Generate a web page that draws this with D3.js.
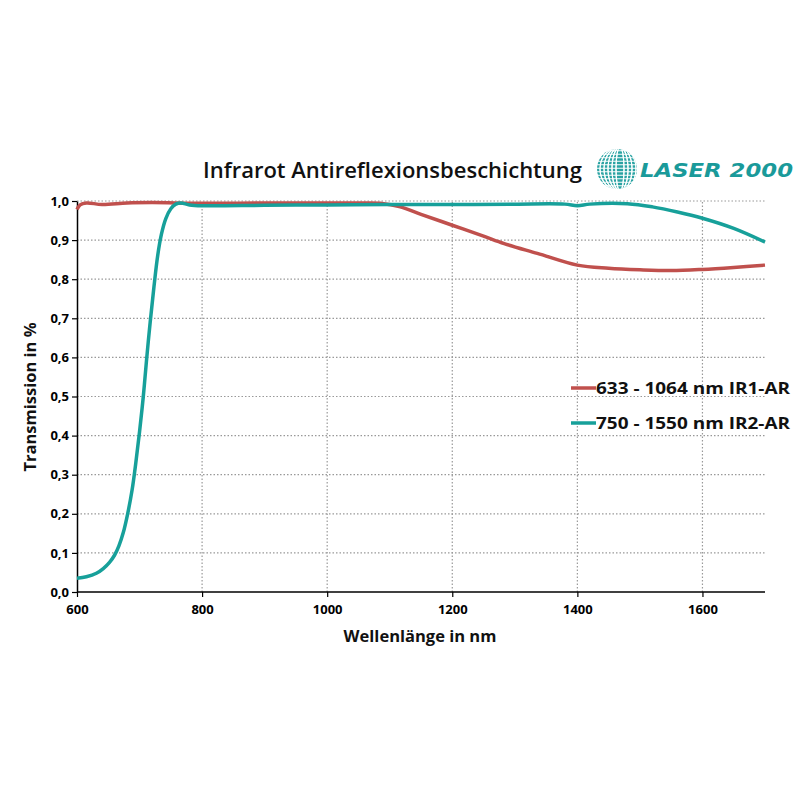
<!DOCTYPE html>
<html><head><meta charset="utf-8">
<script src="https://cdn.jsdelivr.net/npm/d3@7"></script>
<style>body{margin:0;background:#fff}svg{display:block}</style>
</head><body>
<svg id="c" width="800" height="800"></svg>
<script>
const xTicks = [600, 800, 1000, 1200, 1400, 1600];
const yTicks = [0, 0.1, 0.2, 0.3, 0.4, 0.5, 0.6, 0.7, 0.8, 0.9, 1.0];
const seriesNames = ["633 - 1064 nm IR1-AR", "750 - 1550 nm IR2-AR"];
const ir1Wavelength = [600, 605, 615, 640, 680, 720, 800, 900, 1000, 1060, 1085, 1117, 1150, 1200, 1250, 1283, 1336, 1400, 1450, 1500, 1550, 1600, 1650, 1700];
const ir1Value = [0.978, 0.99, 0.995, 0.991, 0.995, 0.996, 0.994, 0.995, 0.995, 0.995, 0.994, 0.985, 0.966, 0.938, 0.91, 0.891, 0.866, 0.836, 0.828, 0.824, 0.822, 0.825, 0.83, 0.836];
const ir2Wavelength = [600, 615, 631, 642, 652, 660, 667, 674, 681, 688, 694, 700, 706, 711, 717, 723, 729, 735, 742, 750, 758, 766, 780, 800, 900, 1000, 1100, 1200, 1300, 1380, 1400, 1420, 1480, 1520, 1560, 1600, 1650, 1700];
const ir2Value = [0.035, 0.039, 0.048, 0.06, 0.076, 0.094, 0.118, 0.152, 0.2, 0.26, 0.33, 0.41, 0.5, 0.59, 0.69, 0.78, 0.86, 0.915, 0.955, 0.98, 0.992, 0.995, 0.99, 0.988, 0.989, 0.99, 0.991, 0.991, 0.992, 0.992, 0.988, 0.992, 0.993, 0.985, 0.972, 0.956, 0.93, 0.895];
const colors = ["#c0504d", "#17a09a"];

const svg = d3.select("#c");
const x = d3.scaleLinear().domain([600, 1700]).range([77, 765]);
const y = d3.scaleLinear().domain([0, 1]).range([592, 201]);

// grid
svg.append("g").selectAll("line").data(yTicks.filter(d => d > 0)).join("line")
  .attr("x1", x(600)).attr("x2", x(1700)).attr("y1", d => y(d)).attr("y2", d => y(d))
  .attr("stroke", "#999").attr("stroke-width", 1.2).attr("stroke-dasharray", "1.5,2");
svg.append("g").selectAll("line").data(xTicks.filter(d => d > 600)).join("line")
  .attr("x1", d => x(d)).attr("x2", d => x(d)).attr("y1", y(0)).attr("y2", y(1))
  .attr("stroke", "#999").attr("stroke-width", 1.2).attr("stroke-dasharray", "1.5,2");

// axes
const font = "'Open Sans', sans-serif";
const xAxis = svg.append("g").attr("transform", `translate(0,${y(0)})`)
  .call(d3.axisBottom(x).tickValues(xTicks).tickSize(5).tickFormat(d3.format("d")).tickSizeOuter(0));
const yAxis = svg.append("g").attr("transform", `translate(${x(600)},0)`)
  .call(d3.axisLeft(y).tickValues(yTicks).tickSize(5).tickFormat(d => d.toFixed(1).replace(".", ",")).tickSizeOuter(0));
[xAxis, yAxis].forEach(a => {
  a.select(".domain").attr("stroke", "#000").attr("stroke-width", 1.5);
  a.selectAll(".tick line").attr("stroke", "#000").attr("stroke-width", 1.2);
  a.selectAll("text").attr("fill", "#000").style("font-family", font).style("font-weight", "bold").style("font-size", "13px");
});
xAxis.selectAll("text").attr("dy", "1.1em");
xAxis.select(".domain").attr("d", `M${x(600)},0H${x(1700)}`);

// lines
const line = d3.line().x(d => x(d[0])).y(d => y(d[1])).curve(d3.curveCatmullRom.alpha(0.5));
const ir1 = ir1Wavelength.map((w, i) => [w, ir1Value[i]]);
const ir2 = ir2Wavelength.map((w, i) => [w, ir2Value[i]]);
svg.append("path").datum(ir1).attr("d", line).attr("fill", "none").attr("stroke", colors[0]).attr("stroke-width", 3.5);
svg.append("path").datum(ir2).attr("d", line).attr("fill", "none").attr("stroke", colors[1]).attr("stroke-width", 3.5);

// legend
const lg = svg.append("g");
seriesNames.forEach((n, i) => {
  const ly = 388 + i * 35;
  lg.append("line").attr("x1", 571).attr("x2", 596).attr("y1", ly).attr("y2", ly)
    .attr("stroke", colors[i]).attr("stroke-width", 3.5);
  lg.append("text").attr("x", 596).attr("y", ly + 6).text(n)
    .style("font-family", font).style("font-weight", "bold").style("font-size", "16.5px").attr("fill", "#111")
    .attr("textLength", 194).attr("lengthAdjust", "spacingAndGlyphs");
});

// axis titles
svg.append("text").attr("x", 420).attr("y", 642).attr("text-anchor", "middle").text("Wellenlänge in nm")
  .style("font-family", font).style("font-weight", "bold").style("font-size", "16.5px").attr("fill", "#111");
svg.append("text").attr("transform", "translate(36,397) rotate(-90)").attr("text-anchor", "middle").text("Transmission in %")
  .style("font-family", font).style("font-weight", "bold").style("font-size", "16.5px").attr("fill", "#111");

// title
svg.append("text").attr("x", 203).attr("y", 178).text("Infrarot Antireflexionsbeschichtung")
  .style("font-family", font).style("font-weight", "600").style("font-size", "22px").attr("fill", "#111")
  .attr("textLength", 379).attr("lengthAdjust", "spacingAndGlyphs");

// logo
const logo = svg.append("g");
const gx = 617, gy = 169, gr = 20;
const defs = svg.append("defs");
defs.append("clipPath").attr("id", "globe").append("circle").attr("cx", gx).attr("cy", gy).attr("r", gr);
const gg = logo.append("g").attr("clip-path", "url(#globe)");
d3.range(-gr, gr + 1, 3.5).forEach(o => {
  gg.append("line").attr("x1", gx - gr).attr("x2", gx + gr).attr("y1", gy + o).attr("y2", gy + o)
    .attr("stroke", "#2aa3a3").attr("stroke-width", 2.4);
});
d3.range(-5, 6).forEach(k => {
  gg.append("ellipse").attr("cx", gx + 3).attr("cy", gy).attr("rx", Math.abs(k) * gr / 5).attr("ry", gr + 2)
    .attr("fill", "none").attr("stroke", "#fff").attr("stroke-width", 1.1);
});
logo.append("text").attr("x", 640).attr("y", 177).text("LASER 2000")
  .style("font-family", "'DejaVu Sans', sans-serif").style("font-weight", "bold").style("font-style", "italic")
  .style("font-size", "20px").attr("fill", "#1a9a9a").attr("textLength", 153).attr("lengthAdjust", "spacingAndGlyphs");
</script>
</body></html>
